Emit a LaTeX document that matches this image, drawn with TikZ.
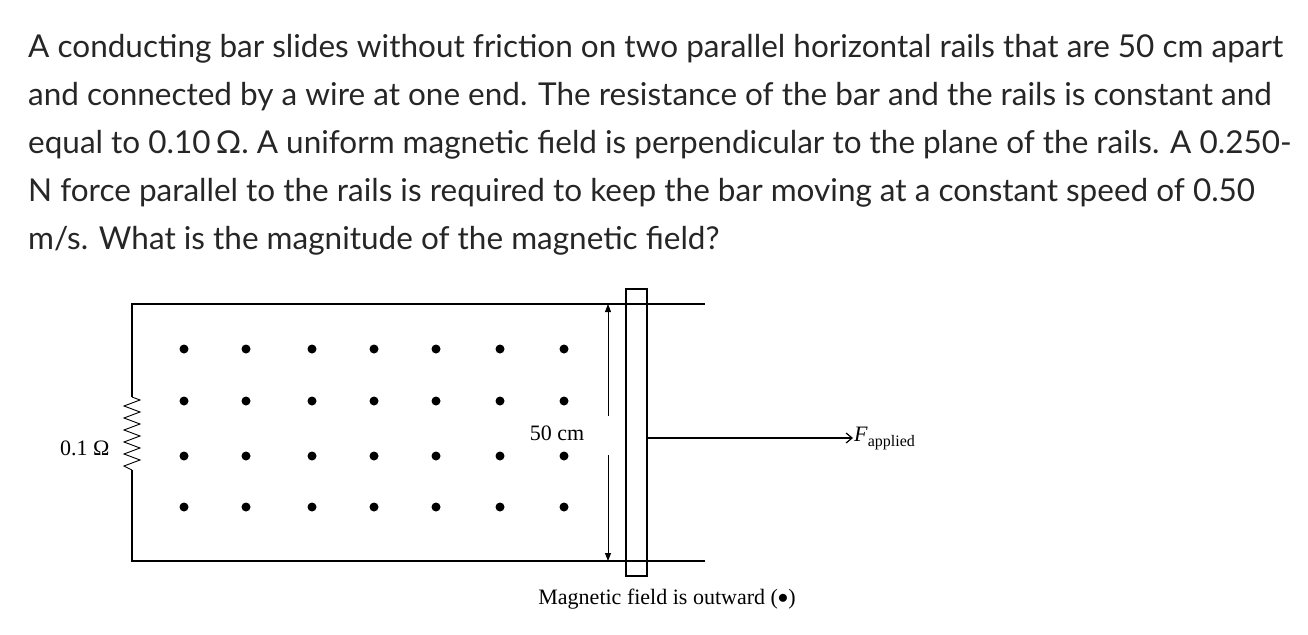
\documentclass[tikz,border=0pt]{standalone}
\usepackage{fontspec}
\newfontfamily\lato{Lato}
\newfontfamily\tnr{Liberation Serif}
\usetikzlibrary{arrows.meta,decorations.pathmorphing}
\begin{document}
\begin{tikzpicture}[x=1pt,y=-1pt,
 qline/.style={anchor=base west,inner sep=0,font=\lato\fontsize{31.5}{36}\selectfont,text=black!85},
 fig/.style={font=\tnr\fontsize{22}{26}\selectfont},
 wire/.style={line width=1.2pt},
 dotm/.style={fill=black}]
\useasboundingbox (0,0) rectangle (1308,634);
\node[qline] (l1) at (28,57) {A conducting bar slides without friction on two parallel horizontal rails that are 50 cm apart};
\node[qline] (l2) at (28,105) {and connected by a wire at one end. The resistance of the bar and the rails is constant and};
\node[qline] (l3) at (28,153) {equal to 0.10\,Ω. A uniform magnetic field is perpendicular to the plane of the rails. A 0.250-};
\node[qline] (l4) at (28,201) {N force parallel to the rails is required to keep the bar moving at a constant speed of 0.50};
\node[qline] (l5) at (28,249) {m/s. What is the magnitude of the magnetic field?};
% circuit
\coordinate (rt) at (705,304); \coordinate (rb) at (705,561);
\coordinate (tl) at (132,304); \coordinate (bl) at (132,561);
\coordinate (r1) at (132,397); \coordinate (r2) at (132,470);
\draw[wire] (rt) -- (tl) -- (r1);
\draw[wire] (r2) -- (bl) -- (rb);
\draw[line width=0.9pt] (r1) -- (140,400) -- (124,406) -- (140,412) -- (124,418) -- (140,424) -- (124,430) -- (140,436) -- (124,442) -- (140,448) -- (124,454) -- (140,460) -- (124,466) -- (r2);
\node[fig,anchor=east] (res) at (113,448) {0.1 Ω};
\foreach \x in {184,246,312,374,436,500,564}
 \foreach \y in {349,401,456,507}
  \fill[dotm] (\x,\y) circle (4.5);
% bar
\node[draw,wire,minimum width=21,minimum height=287,inner sep=0] (bar) at (636.5,432.5) {};
% dimension
\node[fig] (dim) at (557,433) {50 cm};
\coordinate (dt) at (608,304); \coordinate (db) at (608,561);
\draw[line width=0.9pt,-{Triangle[length=8,width=6]}] (608,416) -- (dt);
\draw[line width=0.9pt,-{Triangle[length=8,width=6]}] (608,455) -- (db);
% force
\coordinate (fe) at (853,438);
\draw[wire,-{Straight Barb[length=6,width=10]}] (bar.east |- fe) -- (fe);
\node[fig,anchor=west,inner sep=1] (fl) at (fe) {\textit{F}\raisebox{-5pt}{\fontsize{16}{18}\selectfont applied}};
\node[fig] (cap) at (667,599) {Magnetic field is outward (\raisebox{1pt}{$\bullet$})};
\end{tikzpicture}
\end{document}
